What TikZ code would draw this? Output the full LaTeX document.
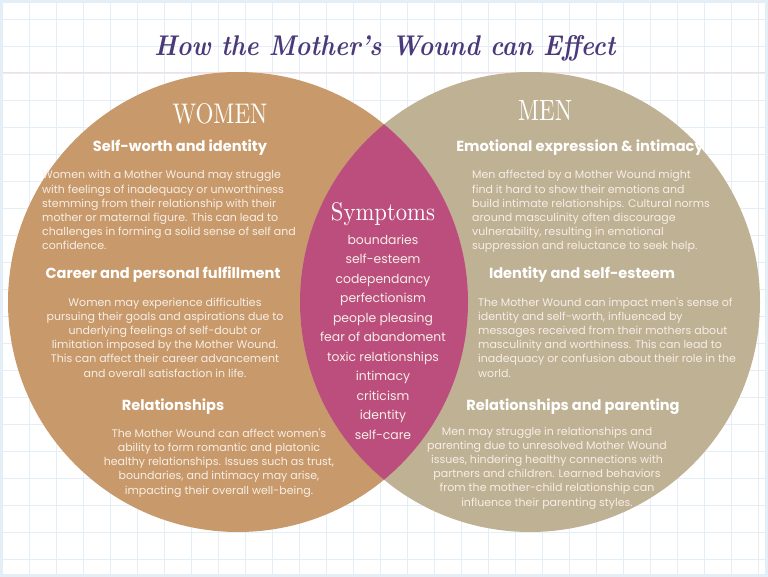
\documentclass[tikz,border=0pt]{standalone}
\usepackage{fontspec}
\usepackage{graphicx}
\newfontfamily\dmfont{Poppins}
\definecolor{womenc}{HTML}{C8996A}
\definecolor{menc}{HTML}{BFB194}
\definecolor{lensc}{HTML}{BC4E7E}
\definecolor{titlec}{HTML}{4A3A7A}
\definecolor{gridc}{HTML}{E4EEF7}
\definecolor{pinkline}{HTML}{F6DDE3}
\definecolor{bodyc}{HTML}{F7EEE6}
\tikzset{
  gridline/.style={gridc, line width=0.9pt},
  body/.style={text=bodyc, font=\dmfont\fontsize{11}{14.2}\selectfont, inner sep=0pt},
  head/.style={text=white, font=\dmfont\bfseries\fontsize{14.6}{16}\selectfont, inner sep=0pt, anchor=base},
  sym/.style={text=bodyc, font=\dmfont\fontsize{12.4}{19.5}\selectfont, inner sep=0pt, align=center, anchor=base},
  big/.style={text=white, inner sep=0pt, anchor=base},
}
\begin{document}
\begin{tikzpicture}[x=1pt,y=-1pt]
\useasboundingbox (0,0) rectangle (768,577);
\fill[white] (0,0) rectangle (768,577);
% background grid
\foreach \i in {0,...,28} \draw[gridline] ({2+27*\i},0) -- ({2+27*\i},577);
\foreach \j in {0,...,21} \draw[gridline] (0,{19+27*\j}) -- (768,{19+27*\j});
\draw[pinkline, line width=1pt] (0,73) -- (768,73);
\draw[gridc, line width=3pt] (1.5,1.5) rectangle (766.5,575.5);
% circles
\fill[womenc] (238,302) circle[radius=230pt];
\fill[menc] (530,302) circle[radius=230pt];
\begin{scope}
  \clip (238,302) circle[radius=230pt];
  \fill[lensc] (530,302) circle[radius=230pt];
\end{scope}
% title
\node[anchor=base, text=titlec, inner sep=0pt] (title) at (385,56)
  {\resizebox{461pt}{20pt}{\bfseries\itshape How the Mother’s Wound can Effect}};
% big labels
\node[big] (women) at (220,124) {\resizebox{95pt}{20pt}{WOMEN}};
\node[big] (men) at (545,121) {\resizebox{54pt}{20pt}{MEN}};
\node[big] (symptoms) at (383,221) {\resizebox{104pt}{18pt}{Symptoms}};
% women side (base anchor = baseline of the last line)
\node[head] (h1) at (180,152) {Self-worth and identity};
\node[body, anchor=base west, align=left] (p1) at (42,250)
  {Women with a Mother Wound may struggle\\
   with feelings of inadequacy or unworthiness\\
   stemming from their relationship with their\\
   mother or maternal figure. This can lead to\\
   challenges in forming a solid sense of self and\\
   confidence.};
\node[head] (h2) at (163,279) {Career and personal fulfillment};
\node[body, anchor=base, align=center] (p2) at (165,377)
  {Women may experience difficulties\\
   pursuing their goals and aspirations due to\\
   underlying feelings of self-doubt or\\
   limitation imposed by the Mother Wound.\\
   This can affect their career advancement\\
   and overall satisfaction in life.};
\node[head] (h3) at (173,410) {Relationships};
\node[body, anchor=base, align=center] (p3) at (219,494)
  {The Mother Wound can affect women's\\
   ability to form romantic and platonic\\
   healthy relationships. Issues such as trust,\\
   boundaries, and intimacy may arise,\\
   impacting their overall well-being.};
% men side
\node[head] (h4) at (580,152) {Emotional expression \& intimacy};
\node[body, anchor=base west, align=left] (p4) at (472,250)
  {Men affected by a Mother Wound might\\
   find it hard to show their emotions and\\
   build intimate relationships. Cultural norms\\
   around masculinity often discourage\\
   vulnerability, resulting in emotional\\
   suppression and reluctance to seek help.};
\node[head] (h5) at (582,279) {Identity and self-esteem};
\node[body, anchor=base west, align=left] (p5) at (478,377)
  {The Mother Wound can impact men's sense of\\
   identity and self-worth, influenced by\\
   messages received from their mothers about\\
   masculinity and worthiness. This can lead to\\
   inadequacy or confusion about their role in the\\
   world.};
\node[head] (h6) at (573,410) {Relationships and parenting};
\node[body, anchor=base, align=center] (p6) at (547,506)
  {Men may struggle in relationships and\\
   parenting due to unresolved Mother Wound\\
   issues, hindering healthy connections with\\
   partners and children. Learned behaviors\\
   from the mother-child relationship can\\
   influence their parenting styles.};
% symptoms list
\node[sym] (list) at (383,439)
  {boundaries\\ self-esteem\\ codependancy\\ perfectionism\\ people pleasing\\
   fear of abandoment\\ toxic relationships\\ intimacy\\ criticism\\ identity\\ self-care};
\end{tikzpicture}
\end{document}
